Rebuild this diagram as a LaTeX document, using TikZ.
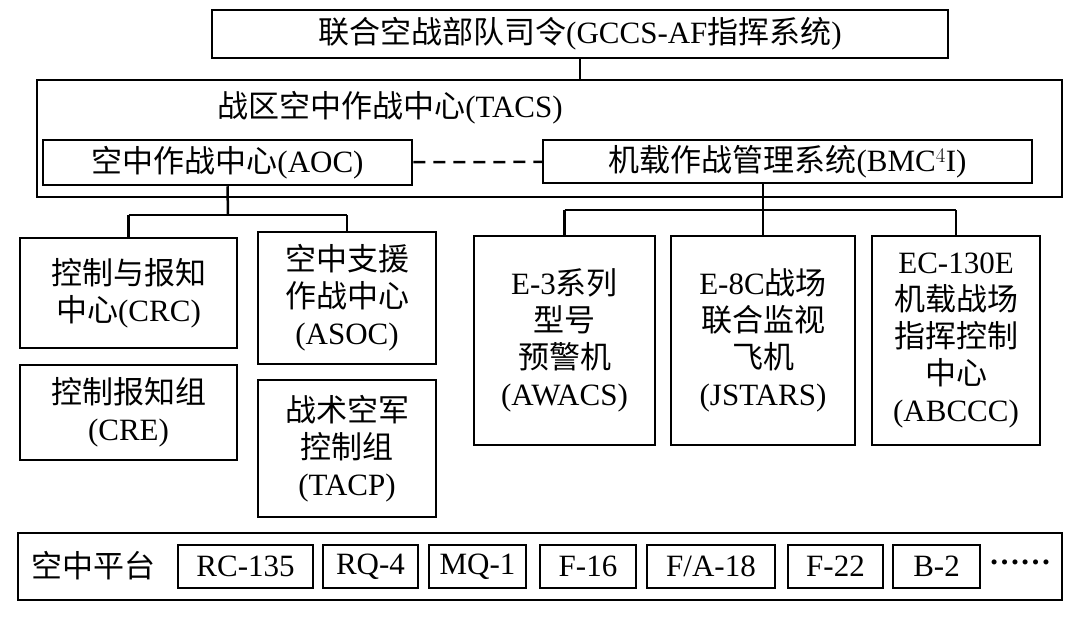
\documentclass[tikz,border=0pt]{standalone}
\usepackage{fontspec}
\setmainfont{Liberation Serif}
\newfontfamily\cjk{Noto Sans CJK SC}
\begin{document}
\begin{tikzpicture}[x=1pt,y=-1pt,line width=2.5pt,
  bx/.style={draw,rectangle,inner sep=0pt,align=center,font=\fontsize{31}{37}\selectfont},
  sb/.style={draw,rectangle,inner sep=0pt,font=\fontsize{31}{34}\selectfont}]
\useasboundingbox (0,0) rectangle (1078,623);
\def\C#1{{\cjk #1}}
\node[bx,minimum width=736,minimum height=48] (top) at (580,34) {\C{联合空战部队司令}(GCCS-AF\C{指挥系统})};
\draw (37,80) rectangle (1062,197);
\coordinate (tacstop) at (580,80);
\node[font=\fontsize{31}{34}\selectfont] (tacs) at (390,108) {\C{战区空中作战中心}(TACS)};
\node[bx,minimum width=369,minimum height=45] (aoc) at (227.5,162.5) {\C{空中作战中心}(AOC)};
\node[bx,minimum width=489,minimum height=43] (bmc) at (787.5,161.5) {\C{机载作战管理系统}(BMC$^{4}$I)};
\draw (top) -- (tacstop);
\draw[dashed,dash pattern=on 12pt off 8pt] (aoc) -- (bmc);
\node[bx,minimum width=217,minimum height=110] (crc) at (128.5,293) {\C{控制与报知}\\\C{中心}(CRC)};
\node[bx,minimum width=217,minimum height=95] (cre) at (128.5,412.5) {\C{控制报知组}\\(CRE)};
\node[bx,minimum width=178,minimum height=132] (asoc) at (347,298) {\C{空中支援}\\\C{作战中心}\\(ASOC)};
\node[bx,minimum width=178,minimum height=137] (tacp) at (347,448.5) {\C{战术空军}\\\C{控制组}\\(TACP)};
\node[bx,minimum width=181,minimum height=209] (awacs) at (564.5,340.5) {E-3\C{系列}\\\C{型号}\\\C{预警机}\\(AWACS)};
\node[bx,minimum width=184,minimum height=209] (jstars) at (763,340.5) {E-8C\C{战场}\\\C{联合监视}\\\C{飞机}\\(JSTARS)};
\node[bx,minimum width=168,minimum height=209] (abccc) at (956,340.5) {EC-130E\\\C{机载战场}\\\C{指挥控制}\\\C{中心}\\(ABCCC)};
\draw (aoc.south) -- (228,215) coordinate (ja);
\draw (crc.north |- ja) -- (asoc.north |- ja);
\draw (crc.north |- ja) -- (crc.north);
\draw (asoc.north |- ja) -- (asoc.north);
\coordinate (jb) at (763,210);
\draw (jb |- bmc.south) -- (jb);
\draw (awacs.north |- jb) -- (abccc.north |- jb);
\draw (awacs.north |- jb) -- (awacs.north);
\draw (jstars.north |- jb) -- (jstars.north);
\draw (abccc.north |- jb) -- (abccc.north);
\draw (18,533) rectangle (1062,600);
\node[font=\fontsize{31}{34}\selectfont] (plat) at (93,566) {\C{空中平台}};
\node[sb,minimum width=135,minimum height=43] (p1) at (245.5,566.5) {RC-135};
\node[sb,minimum width=95,minimum height=43] (p2) at (370.5,566.5) {RQ-4};
\node[sb,minimum width=97,minimum height=43] (p3) at (477.5,566.5) {MQ-1};
\node[sb,minimum width=96,minimum height=43] (p4) at (588,566.5) {F-16};
\node[sb,minimum width=128,minimum height=43] (p5) at (711,566.5) {F/A-18};
\node[sb,minimum width=95,minimum height=43] (p6) at (835.5,566.5) {F-22};
\node[sb,minimum width=87,minimum height=43] (p7) at (936.5,566.5) {B-2};
\node[font=\bfseries\fontsize{31}{34}\selectfont] (dots) at (1020,562) {……};
\end{tikzpicture}
\end{document}
